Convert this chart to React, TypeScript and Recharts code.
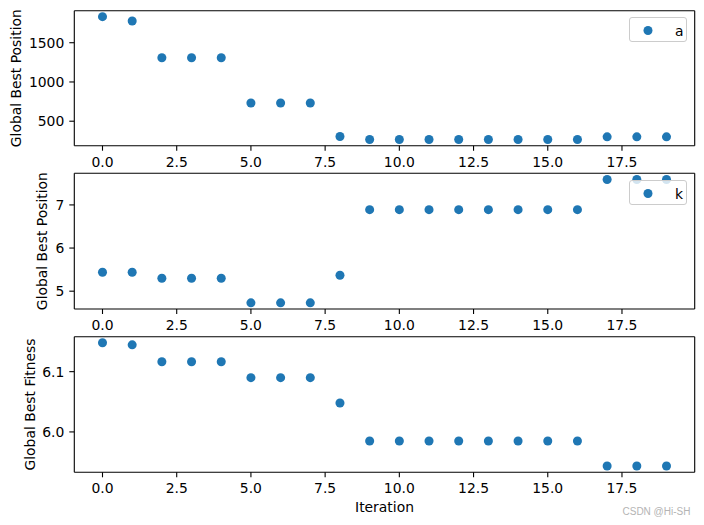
import React from 'react'
import { ScatterChart, Scatter, XAxis, YAxis, Legend } from 'recharts'

// values
const iterations = [0, 1, 2, 3, 4, 5, 6, 7, 8, 9, 10, 11, 12, 13, 14, 15, 16, 17, 18, 19]
const aValues = [1832, 1776, 1309, 1309, 1309, 732, 732, 732, 305, 267, 267, 267, 267, 267, 267, 267, 267, 301, 301, 301]
const kValues = [5.44, 5.44, 5.3, 5.3, 5.3, 4.73, 4.73, 4.73, 5.37, 6.89, 6.89, 6.89, 6.89, 6.89, 6.89, 6.89, 6.89, 7.59, 7.59, 7.59]
const fitnessValues = [6.148, 6.1445, 6.1165, 6.1165, 6.1165, 6.09, 6.09, 6.09, 6.048, 5.985, 5.985, 5.985, 5.985, 5.985, 5.985, 5.985, 5.985, 5.9435, 5.9435, 5.9435]

const xTicks = [0, 2.5, 5, 7.5, 10, 12.5, 15, 17.5]
const aTicks = [500, 1000, 1500]
const kTicks = [5, 6, 7]
const fitnessTicks = [6.0, 6.1]

const W = 704
const H = 525
const PLOT_LEFT = 74.3
const PLOT_RIGHT = 694.7
const Y_AXIS_W = 60
const X_AXIS_H = 24
const FONT = 'DejaVu Sans, sans-serif'
const FS = 13.9
const BLUE = '#1f77b4'
const X_DOMAIN: [number, number] = [-0.95, 19.95]

const toRows = (ys: number[]) => iterations.map((x, i) => ({ x, y: ys[i] }))

const tickStyle = { fill: '#000', fontSize: FS, fontFamily: FONT }
const lineStyle = { stroke: '#000', strokeWidth: 1.1 }

interface PanelProps {
  rows: { x: number; y: number }[]
  plotTop: number
  plotBottom: number
  yDomain: [number, number]
  yTicks: number[]
  yFmt: (v: number) => string
  yLabel: string
  yLabelX: number
  legendName?: string
  legendTop?: number
  xLabel?: string
}

function LegendBox({ name }: { name: string }) {
  return (
    <div
      style={{
        width: 58,
        height: 25,
        boxSizing: 'border-box',
        border: '1px solid #cccccc',
        borderRadius: 3,
        background: 'rgba(255,255,255,0.8)',
        position: 'relative',
      }}
    >
      <svg width={58} height={25} style={{ position: 'absolute', left: -1, top: -1 }}>
        <circle cx={19} cy={13.5} r={4.5} fill={BLUE} />
        <text x={46} y={18.5} fontFamily={FONT} fontSize={FS} fill="#000">{name}</text>
      </svg>
    </div>
  )
}

function Panel(p: PanelProps) {
  const bottomMargin = H - p.plotBottom - X_AXIS_H
  return (
    <div style={{ position: 'absolute', left: 0, top: 0, width: W, height: H }}>
      <ScatterChart
        width={W}
        height={H}
        margin={{ top: p.plotTop - 1, right: W - PLOT_RIGHT - 1, bottom: bottomMargin, left: PLOT_LEFT - Y_AXIS_W }}
      >
        <XAxis
          type="number"
          dataKey="x"
          domain={X_DOMAIN}
          allowDataOverflow
          ticks={xTicks}
          tickFormatter={(v: number) => v.toFixed(1)}
          tick={tickStyle}
          tickSize={5}
          tickMargin={6}
          axisLine={lineStyle}
          tickLine={lineStyle}
          height={X_AXIS_H}
          interval={0}
          label={
            p.xLabel
              ? {
                  value: p.xLabel,
                  content: () => (
                    <text x={(PLOT_LEFT + PLOT_RIGHT) / 2} y={512} textAnchor="middle" fontFamily={FONT} fontSize={FS} fill="#000">
                      {p.xLabel}
                    </text>
                  ),
                }
              : undefined
          }
        />
        <XAxis
          xAxisId="top"
          orientation="top"
          type="number"
          dataKey="x"
          domain={X_DOMAIN}
          allowDataOverflow
          height={1}
          tick={false}
          tickLine={false}
          axisLine={lineStyle}
        />
        <YAxis
          type="number"
          dataKey="y"
          domain={p.yDomain}
          allowDataOverflow
          ticks={p.yTicks}
          tickFormatter={p.yFmt}
          tick={tickStyle}
          tickSize={5}
          tickMargin={5}
          axisLine={lineStyle}
          tickLine={lineStyle}
          width={Y_AXIS_W}
          interval={0}
          label={{
            value: p.yLabel,
            content: (lp: any) => {
              const vb = lp.viewBox || { y: p.plotTop, height: p.plotBottom - p.plotTop }
              const cy = vb.y + vb.height / 2
              return (
                <text
                  x={p.yLabelX}
                  y={cy}
                  transform={`rotate(-90 ${p.yLabelX} ${cy})`}
                  textAnchor="middle"
                  dominantBaseline="central"
                  fontFamily={FONT}
                  fontSize={FS}
                  fill="#000"
                >
                  {p.yLabel}
                </text>
              )
            },
          }}
        />
        <YAxis
          yAxisId="right"
          orientation="right"
          type="number"
          dataKey="y"
          domain={p.yDomain}
          allowDataOverflow
          width={1}
          tick={false}
          tickLine={false}
          axisLine={lineStyle}
        />
        {/* invisible copy on the top/right axes so the frame lines are drawn */}
        <Scatter
          xAxisId="top"
          yAxisId="right"
          data={p.rows}
          legendType="none"
          shape={() => <g />}
          isAnimationActive={false}
        />
        <Scatter name={p.legendName || 'series'} data={p.rows} fill={BLUE} isAnimationActive={false} />
        {p.legendName && (
          <Legend
            layout="horizontal"
            verticalAlign="middle"
            align="center"
            wrapperStyle={{ top: p.legendTop, left: 629, width: 58, height: 25, right: 'auto', bottom: 'auto' }}
            content={() => <LegendBox name={p.legendName as string} />}
          />
        )}
      </ScatterChart>
    </div>
  )
}

export default function App() {
  return (
    <div style={{ position: 'absolute', left: 0, top: 0, width: W, height: H, background: '#fff' }}>
      <Panel
        rows={toRows(aValues)}
        plotTop={10.7}
        plotBottom={145.7}
        yDomain={[188, 1908]}
        yTicks={aTicks}
        yFmt={(v) => String(v)}
        yLabel="Global Best Position"
        yLabelX={16.5}
        legendName="a"
        legendTop={17}
      />
      <Panel
        rows={toRows(kValues)}
        plotTop={173.3}
        plotBottom={309}
        yDomain={[4.587, 7.733]}
        yTicks={kTicks}
        yFmt={(v) => String(v)}
        yLabel="Global Best Position"
        yLabelX={42.5}
        legendName="k"
        legendTop={180}
      />
      <Panel
        rows={toRows(fitnessValues)}
        plotTop={336.7}
        plotBottom={472.3}
        yDomain={[5.933, 6.158]}
        yTicks={fitnessTicks}
        yFmt={(v) => v.toFixed(1)}
        yLabel="Global Best Fitness"
        yLabelX={29.5}
        xLabel="Iteration"
      />
      <svg width={W} height={H} style={{ position: 'absolute', left: 0, top: 0, pointerEvents: 'none' }}>
        <text x={622.5} y={515} fontFamily="Liberation Sans, Arial, sans-serif" fontSize={10} fill="#b4b4b4">
          CSDN @Hi-SH
        </text>
      </svg>
    </div>
  )
}
